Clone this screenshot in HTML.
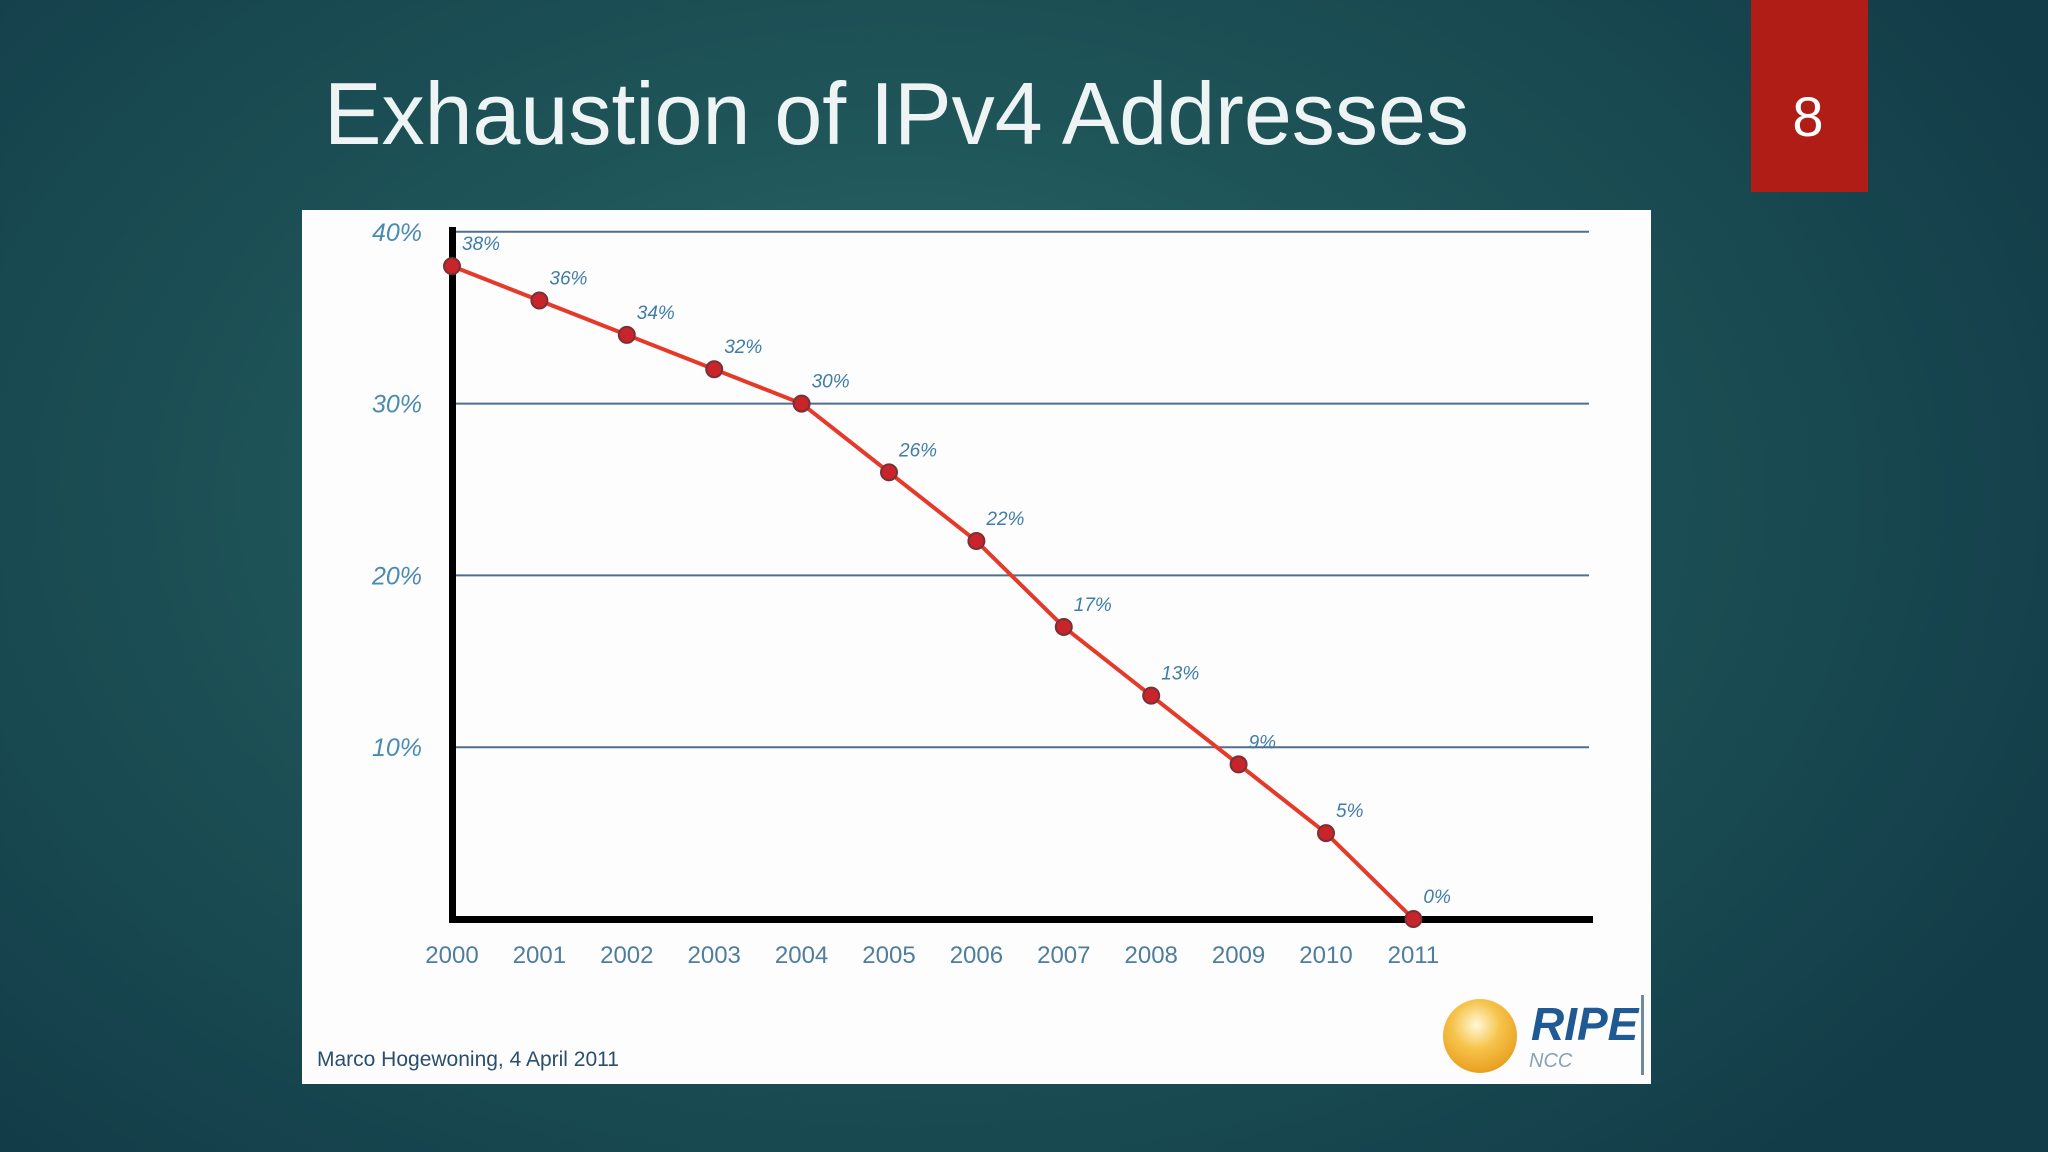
<!DOCTYPE html>
<html><head><meta charset="utf-8"><style>
html,body{margin:0;padding:0;width:2048px;height:1152px;overflow:hidden}
body{background:radial-gradient(ellipse 1300px 900px at 900px 500px,#2c6a6c 0%,#1e5458 45%,#123c48 100%);font-family:"Liberation Sans",sans-serif}
</style></head><body>
<svg width="2048" height="1152" viewBox="0 0 2048 1152" xmlns="http://www.w3.org/2000/svg">
<text x="324" y="144" font-family="Liberation Sans, sans-serif" font-size="88" fill="#eef3f4" textLength="1145" lengthAdjust="spacingAndGlyphs">Exhaustion of IPv4 Addresses</text>
<rect x="1751" y="0" width="117" height="192" fill="#b01c16"/>
<text x="1808" y="136" text-anchor="middle" font-family="Liberation Sans, sans-serif" font-size="56" fill="#fff">8</text>
<rect x="302" y="210" width="1349" height="874" fill="#fdfdfd"/>
<g id="chart"></g>
<text x="317" y="1066" font-family="Liberation Sans, sans-serif" font-size="21" fill="#2a4e6e">Marco Hogewoning, 4 April 2011</text>
<defs><radialGradient id="sun" cx="0.45" cy="0.35" r="0.65"><stop offset="0" stop-color="#fff8d8"/><stop offset="0.5" stop-color="#f6c34a"/><stop offset="1" stop-color="#e8a020"/></radialGradient></defs>
<circle cx="1480" cy="1036" r="37" fill="url(#sun)"/>
<text x="1531" y="1040" font-family="Liberation Sans, sans-serif" font-size="46" font-weight="bold" font-style="italic" fill="#1f5a94">RIPE</text>
<text x="1529" y="1067" font-family="Liberation Sans, sans-serif" font-size="20" font-style="italic" fill="#8aa0b4">NCC</text>
<rect x="1641" y="995" width="3" height="80" fill="#6f8aa0"/>
</svg>
<script>
const years=["2000","2001","2002","2003","2004","2005","2006","2007","2008","2009","2010","2011"];
const values=[38,36,34,32,30,26,22,17,13,9,5,0];
const yTicks=[10,20,30,40];
const NS="http://www.w3.org/2000/svg";
const g=document.getElementById('chart');
const x0=452,xStep=87.4,yBase=919,yPer=17.18,xEnd=1589;
const X=i=>x0+i*xStep, Y=v=>yBase-v*yPer;
function mk(t,a){const e=document.createElementNS(NS,t);for(const k in a)e.setAttribute(k,a[k]);g.appendChild(e);return e;}
yTicks.forEach(v=>{
 const l=mk('line',{x1:x0,x2:xEnd,y1:Y(v),y2:Y(v),stroke:'#4f6f8c','stroke-width':2});
 
 
 const t=mk('text',{x:422,y:Y(v)+9,'text-anchor':'end','font-size':25,'font-style':'italic',fill:'#4a8ab4','font-family':'Liberation Sans, sans-serif'});
 t.textContent=v+'%';
 
 
});
const ya=mk('rect',{x:x0-3,y:227,width:7,height:yBase-227+3,fill:'#000'});


const xa=mk('rect',{x:x0-3,y:yBase-3,width:1593-x0+3,height:7,fill:'#000'});


years.forEach((y,i)=>{
 const t=mk('text',{x:X(i),y:963,'text-anchor':'middle','font-size':24,fill:'#4f7e9c','font-family':'Liberation Sans, sans-serif'});
 t.textContent=y;
 
 
});
const pl=mk('polyline',{points:values.map((v,i)=>X(i)+','+Y(v)).join(' '),fill:'none',stroke:'#e53a2a','stroke-width':4,'stroke-linejoin':'round'});


values.forEach((v,i)=>{
 const c=mk('circle',{cx:X(i),cy:Y(v),r:8,fill:'#c8242a',stroke:'#7a3038','stroke-width':2});
 
 
 const t=mk('text',{x:X(i)+10,y:Y(v)-16,'font-size':19,'font-style':'italic',fill:'#3f7ca8','font-family':'Liberation Sans, sans-serif'});
 t.textContent=v+'%';
 
 
});
</script>
</body></html>
